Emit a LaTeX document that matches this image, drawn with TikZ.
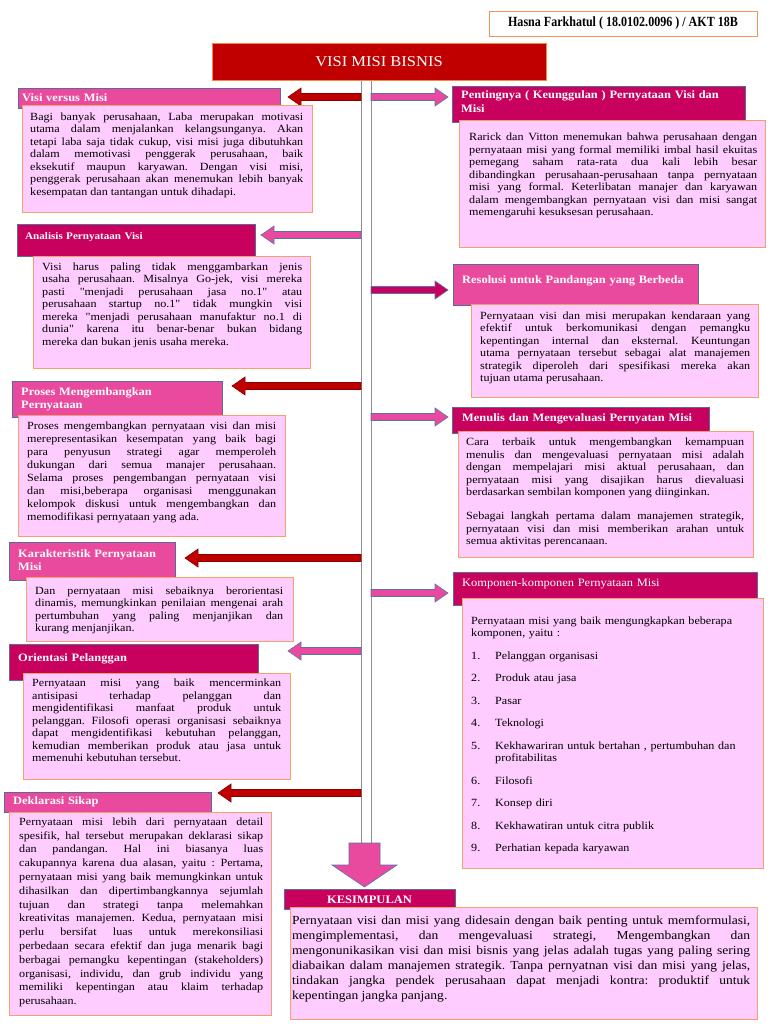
\documentclass[tikz,border=0pt]{standalone}
\usepackage{fontspec}
\setmainfont{Liberation Serif}[FakeStretch=1.1]
\newfontfamily\qfont{Liberation Serif}[FakeStretch=1.1]
\newfontfamily\namefont{Liberation Serif}[FakeStretch=0.86]
\newcommand\qq{{\qfont"}}
\usetikzlibrary{fit,calc}
\definecolor{hotpink}{HTML}{EA4A9D}
\definecolor{magen}{HTML}{C8005E}
\definecolor{bodyfill}{HTML}{FFCCFF}
\definecolor{bodyedge}{HTML}{F4A06A}
\definecolor{hdredge}{HTML}{5C6A98}
\definecolor{darkred}{HTML}{C00000}
\definecolor{arrowedge}{HTML}{5573AE}
\definecolor{spinefill}{HTML}{FFFFFF}
\definecolor{spineedge}{HTML}{8E8E8E}
\definecolor{titleedge}{HTML}{F08A4B}
\definecolor{nameedge}{HTML}{F0965A}
\newcommand\hdarrL[3]{\path[#3] let \p1=(#1), \p2=(#2) in
  (\x1,\y1+3.5pt) -- (\x2+13pt,\y1+3.5pt) -- (\x2+13pt,\y1+9pt) -- (\x2,\y1)
  -- (\x2+13pt,\y1-9pt) -- (\x2+13pt,\y1-3.5pt) -- (\x1,\y1-3.5pt) -- cycle;}
\newcommand\hdarrR[3]{\path[#3] let \p1=(#1), \p2=(#2) in
  (\x1,\y1+3.5pt) -- (\x2-13pt,\y1+3.5pt) -- (\x2-13pt,\y1+9pt) -- (\x2,\y1)
  -- (\x2-13pt,\y1-9pt) -- (\x2-13pt,\y1-3.5pt) -- (\x1,\y1-3.5pt) -- cycle;}
\newcommand\bigdown[3]{\path[#3] let \p1=(#1), \p2=(#2) in
  (\x1-15.5pt,\y1) -- (\x1+15.5pt,\y1) -- (\x1+15.5pt,\y2+22pt) -- (\x1+32.5pt,\y2+22pt)
  -- (\x2,\y2) -- (\x1-32.5pt,\y2+22pt) -- (\x1-15.5pt,\y2+22pt) -- cycle;}
\tikzset{
  hdrpink/.style={fill=hotpink, draw=hdredge, line width=0.8pt, inner sep=0pt},
  hdrmag/.style={fill=magen, draw=hdredge, line width=0.8pt, inner sep=0pt},
  bodybox/.style={fill=bodyfill, draw=bodyedge, line width=1pt, inner sep=0pt},
  hdrtext/.style={text=white, font=\fontsize{11.3}{13.3}\selectfont\bfseries, inner sep=0pt, align=left, anchor=base west, text width=290pt},
  bodytext/.style={font=\fontsize{11}{12.5}\selectfont\frenchspacing, inner sep=0pt, align=justify, anchor=base west},
  arrdark/.style={fill=darkred, draw=darkred!70!black, line width=0.6pt},
  arrpink/.style={fill=hotpink, draw=arrowedge, line width=0.6pt},
  arrmag/.style={fill=magen, draw=arrowedge, line width=0.6pt},
  namebox/.style={fill=white, draw=nameedge, line width=0.8pt, minimum width=268pt, minimum height=25pt, inner sep=0pt},
  titlebox/.style={fill=darkred, draw=titleedge, line width=0.8pt, minimum width=334pt, minimum height=37pt, inner sep=0pt, text=white, font=\fontsize{15}{17}\selectfont},
  spinebar/.style={fill=spinefill, draw=spineedge, line width=1pt, inner sep=0pt},
}
\begin{document}
\begin{tikzpicture}[x=1pt,y=-1pt]
\useasboundingbox (0,0) rectangle (768,1024);
\fill[white] (0,0) rectangle (768,1024);

% name and title
\node[namebox] (name) at (623,23.5) {\namefont\fontsize{14}{16}\selectfont\bfseries Hasna Farkhatul ( 18.0102.0096 ) / AKT 18B};
\node[spinebar, fit={(361,80) (371,844)}] (spine) {};
\node[titlebox] (title) at (379,61.5) {VISI MISI BISNIS};

% arrow coordinates
\coordinate (sL1) at (361,97);  \coordinate (tL1) at (288,97);
\coordinate (sL2) at (361,235); \coordinate (tL2) at (261,235);
\coordinate (sL3) at (361,386); \coordinate (tL3) at (232,386);
\coordinate (sL4) at (361,558); \coordinate (tL4) at (185,558);
\coordinate (sL5) at (361,651); \coordinate (tL5) at (288,651);
\coordinate (sL6) at (361,793); \coordinate (tL6) at (218,793);
\coordinate (sR1) at (371,97);  \coordinate (tR1) at (448,97);
\coordinate (sR2) at (371,290); \coordinate (tR2) at (448,290);
\coordinate (sR3) at (371,417); \coordinate (tR3) at (448,417);
\coordinate (sR4) at (371,593); \coordinate (tR4) at (448,593);
\coordinate (sD) at (364.5,843); \coordinate (tD) at (364.5,887);

\hdarrL{sL1}{tL1}{arrdark}
\hdarrL{sL2}{tL2}{arrpink}
\hdarrL{sL3}{tL3}{arrdark}
\hdarrL{sL4}{tL4}{arrdark}
\hdarrL{sL5}{tL5}{arrpink}
\hdarrL{sL6}{tL6}{arrdark}
\hdarrR{sR1}{tR1}{arrpink}
\hdarrR{sR2}{tR2}{arrmag}
\hdarrR{sR3}{tR3}{arrpink}
\hdarrR{sR4}{tR4}{arrpink}
\bigdown{sD}{tD}{arrpink}

% ---------- Left 1
\node[hdrpink, fit={(18,88) (280,108)}] (h1) {};
\node[bodybox, fit={(22,106) (312,213)}] (b1) {};
\node[hdrtext] (ht1) at (22,102) {Visi versus Misi};
\node[bodytext, text width=273pt] (t1) at (30,120.5) {Bagi banyak perusahaan, Laba merupakan motivasi\linebreak utama dalam menjalankan kelangsunganya. Akan\linebreak tetapi laba saja tidak cukup, visi misi juga dibutuhkan\linebreak dalam memotivasi penggerak perusahaan, baik\linebreak eksekutif maupun karyawan. Dengan visi misi,\linebreak penggerak perusahaan akan menemukan lebih banyak\linebreak kesempatan dan tantangan untuk dihadapi.};

% ---------- Left 2
\node[hdrmag, fit={(17,224) (255,256)}] (h2) {};
\node[bodybox, fit={(33,256) (310,368)}] (b2) {};
\node[hdrtext, font=\fontsize{10.1}{12}\selectfont\bfseries] (ht2) at (25,239.7) {Analisis Pernyataan Visi};
\node[bodytext, text width=260pt] (t2) at (42,270.2) {Visi harus paling tidak menggambarkan jenis\linebreak usaha perusahaan. Misalnya Go-jek, visi mereka\linebreak pasti \qq menjadi perusahaan jasa no.1\qq{} atau\linebreak perusahaan startup no.1\qq{} tidak mungkin visi\linebreak mereka \qq menjadi perusahaan manufaktur no.1 di\linebreak dunia\qq{} karena itu benar-benar bukan bidang\linebreak mereka dan bukan jenis usaha mereka.};

% ---------- Left 3
\node[hdrpink, fit={(12,381) (222,417)}] (h3) {};
\node[bodybox, fit={(18,415) (285,536)}] (b3) {};
\node[hdrtext, font=\fontsize{11.3}{13.6}\selectfont\bfseries] (ht3) at (21,395) {Proses Mengembangkan\\Pernyataan};
\node[bodytext, text width=249pt, font=\fontsize{11}{13}\selectfont\frenchspacing] (t3) at (27,429.2) {Proses mengembangkan pernyataan visi dan misi\linebreak merepresentasikan kesempatan yang baik bagi\linebreak para penyusun strategi agar memperoleh\linebreak dukungan dari semua manajer perusahaan.\linebreak Selama proses pengembangan pernyataan visi\linebreak dan misi,beberapa organisasi menggunakan\linebreak kelompok diskusi untuk mengembangkan dan\linebreak memodifikasi pernyataan yang ada.};

% ---------- Left 4
\node[hdrpink, fit={(9,542) (175,580)}] (h4) {};
\node[bodybox, fit={(26,577) (293,641)}] (b4) {};
\node[hdrtext] (ht4) at (18,557) {Karakteristik Pernyataan\\Misi};
\node[bodytext, text width=248pt] (t4) at (35,594.2) {Dan pernyataan misi sebaiknya berorientasi\linebreak dinamis, memungkinkan penilaian mengenai arah\linebreak pertumbuhan yang paling menjanjikan dan\linebreak kurang menjanjikan.};

% ---------- Left 5
\node[hdrmag, fit={(9,644) (258,680)}] (h5) {};
\node[bodybox, fit={(23,673) (290,779)}] (b5) {};
\node[hdrtext] (ht5) at (18,661.3) {Orientasi Pelanggan};
\node[bodytext, text width=249pt] (t5) at (32,686.5) {Pernyataan misi yang baik mencerminkan\linebreak antisipasi terhadap pelanggan dan\linebreak mengidentifikasi manfaat produk untuk\linebreak pelanggan. Filosofi operasi organisasi sebaiknya\linebreak dapat mengidentifikasi kebutuhan pelanggan,\linebreak kemudian memberikan produk atau jasa untuk\linebreak memenuhi kebutuhan tersebut.};

% ---------- Left 6
\node[hdrpink, fit={(4,792) (211,812)}] (h6) {};
\node[bodybox, fit={(9,812) (271,1015)}] (b6) {};
\node[hdrtext] (ht6) at (13,804.7) {Deklarasi Sikap};
\node[bodytext, text width=244pt, font=\fontsize{11}{13.8}\selectfont\frenchspacing] (t6) at (19,825.2) {Pernyataan misi lebih dari pernyataan detail\linebreak spesifik, hal tersebut merupakan deklarasi sikap\linebreak dan pandangan. Hal ini biasanya luas\linebreak cakupannya karena dua alasan, yaitu : Pertama,\linebreak pernyataan misi yang baik memungkinkan untuk\linebreak dihasilkan dan dipertimbangkannya sejumlah\linebreak tujuan dan strategi tanpa melemahkan\linebreak kreativitas manajemen. Kedua, pernyataan misi\linebreak perlu bersifat luas untuk merekonsiliasi\linebreak perbedaan secara efektif dan juga menarik bagi\linebreak berbagai pemangku kepentingan (stakeholders)\linebreak organisasi, individu, dan grub individu yang\linebreak memiliki kepentingan atau klaim terhadap\linebreak perusahaan.};

% ---------- Right 1
\node[hdrmag, fit={(452,86) (745,122)}] (h7) {};
\node[bodybox, fit={(459,121) (765,247)}] (b7) {};
\node[hdrtext] (ht7) at (461,99) {Pentingnya ( Keunggulan ) Pernyataan Visi dan\\Misi};
\node[bodytext, text width=288pt] (t7) at (469,140.8) {Rarick dan Vitton menemukan bahwa perusahaan dengan\linebreak pernyataan misi yang formal memiliki imbal hasil ekuitas\linebreak pemegang saham rata-rata dua kali lebih besar\linebreak dibandingkan perusahaan-perusahaan tanpa pernyataan\linebreak misi yang formal. Keterlibatan manajer dan karyawan\linebreak dalam mengembangkan pernyataan visi dan misi sangat\linebreak memengaruhi kesuksesan perusahaan.};

% ---------- Right 2
\node[hdrpink, fit={(453,264) (698,305)}] (h8) {};
\node[bodybox, fit={(471,304) (758,397)}] (b8) {};
\node[hdrtext] (ht8) at (462,283.7) {Resolusi untuk Pandangan yang Berbeda};
\node[bodytext, text width=270pt] (t8) at (480,319.2) {Pernyataan visi dan misi merupakan kendaraan yang\linebreak efektif untuk berkomunikasi dengan pemangku\linebreak kepentingan internal dan eksternal. Keuntungan\linebreak utama pernyataan tersebut sebagai alat manajemen\linebreak strategik diperoleh dari spesifikasi mereka akan\linebreak tujuan utama perusahaan.};

% ---------- Right 3
\node[hdrmag, fit={(452,407) (709,433)}] (h9) {};
\node[bodybox, fit={(458,431) (753,557)}] (b9) {};
\node[hdrtext] (ht9) at (462,421.3) {Menulis dan Mengevaluasi Pernyatan Misi};
\node[bodytext, text width=278pt] (t9) at (466,445.8) {Cara terbaik untuk mengembangkan kemampuan\linebreak menulis dan mengevaluasi pernyataan misi adalah\linebreak dengan mempelajari misi aktual perusahaan, dan\linebreak pernyataan misi yang disajikan harus dievaluasi\linebreak berdasarkan sembilan komponen yang diinginkan.\par\vspace{11.5pt}Sebagai langkah pertama dalam manajemen strategik,\linebreak pernyataan visi dan misi memberikan arahan untuk\linebreak semua aktivitas perencanaan.};

% ---------- Right 4
\node[hdrmag, fit={(453,572) (757,605)}] (h10) {};
\node[bodybox, fit={(462,598) (763,868)}] (b10) {};
\node[hdrtext, font=\fontsize{11.3}{13.3}\selectfont] (ht10) at (462,586.3) {Komponen-komponen Pernyataan Misi};
\node[bodytext, align=left, text width=290pt] (t10) at (471,624.2) {Pernyataan misi yang baik mengungkapkan beberapa\\
komponen, yaitu :\\[10pt]
\makebox[24pt][l]{1.}Pelanggan organisasi\\[10pt]
\makebox[24pt][l]{2.}Produk atau jasa\\[10pt]
\makebox[24pt][l]{3.}Pasar\\[10pt]
\makebox[24pt][l]{4.}Teknologi\\[10pt]
\makebox[24pt][l]{5.}Kekhawariran untuk bertahan , pertumbuhan dan\\
\hspace*{24pt}profitabilitas\\[10pt]
\makebox[24pt][l]{6.}Filosofi\\[10pt]
\makebox[24pt][l]{7.}Konsep diri\\[10pt]
\makebox[24pt][l]{8.}Kekhawatiran untuk citra publik\\[10pt]
\makebox[24pt][l]{9.}Perhatian kepada karyawan};

% ---------- Kesimpulan
\node[hdrmag, fit={(284,889) (455,909)}] (h11) {};
\node[bodybox, fit={(290,907) (757,1019)}] (b11) {};
\node[text=white, font=\fontsize{11.4}{13}\selectfont\bfseries, inner sep=0pt, anchor=base] (ht11) at (369.5,903.5) {KESIMPULAN};
\node[bodytext, text width=458pt, font=\fontsize{12.3}{15}\selectfont\frenchspacing] (t11) at (292,924.5) {Pernyataan visi dan misi yang didesain dengan baik penting untuk memformulasi,\linebreak mengimplementasi, dan mengevaluasi strategi, Mengembangkan dan\linebreak mengonunikasikan visi dan misi bisnis yang jelas adalah tugas yang paling sering\linebreak diabaikan dalam manajemen strategik. Tanpa pernyatnan visi dan misi yang jelas,\linebreak tindakan jangka pendek perusahaan dapat menjadi kontra: produktif untuk\linebreak kepentingan jangka panjang.};
\end{tikzpicture}
\end{document}
